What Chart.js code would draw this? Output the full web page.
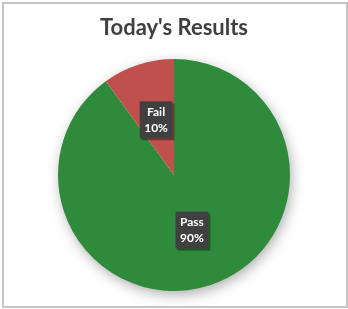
<!DOCTYPE html>
<html>
<head>
<meta charset="utf-8">
<script src="https://cdn.jsdelivr.net/npm/chart.js@4"></script>
<style>
  html,body{margin:0;padding:0;background:#fff;}
  body{width:348px;height:309px;position:relative;overflow:hidden;}
  #wrap{position:absolute;left:0;top:0;width:348px;height:309px;}
  #frame{position:absolute;left:2px;top:2px;width:342px;height:302px;border:2px solid #c4c4c4;pointer-events:none;}
</style>
</head>
<body>
<div id="wrap"><canvas id="chart"></canvas></div>
<div id="frame"></div>
<script>
let labels = ['Pass','Fail'];
let values = [90,10];
let colors = ['#2f8a3c','#c0504d'];

// soft glow behind the pie, like the Excel shadow
let pieShadow = {
    id:'pieShadow',
    beforeDatasetsDraw(chart){
        let arc = chart.getDatasetMeta(0).data[0];
        if(!arc) return;
        let c = chart.ctx;
        c.save();
        c.shadowColor = 'rgba(0,0,0,0.35)';
        c.shadowBlur = 14;
        c.shadowOffsetX = 2;
        c.shadowOffsetY = 4;
        c.fillStyle = '#ffffff';
        c.beginPath();
        c.arc(arc.x, arc.y, arc.outerRadius-1, 0, Math.PI*2);
        c.fill();
        c.restore();
    }
};

// dark callout boxes with name + percentage
let boxLabels = {
    id:'boxLabels',
    afterDatasetsDraw(chart){
        let c = chart.ctx;
        let total = values.reduce((a,b)=>a+b,0);
        chart.getDatasetMeta(0).data.forEach((arc,i)=>{
            let p = arc.tooltipPosition();
            let l1 = labels[i];
            let l2 = Math.round(values[i]/total*100)+'%';
            c.save();
            c.font = 'bold 12px Lato';
            let w = Math.max(c.measureText(l1).width, c.measureText(l2).width) + 9;
            let h = 37;
            let x = p.x - w/2, y = p.y - h/2;
            c.fillStyle = 'rgba(0,0,0,0.35)';
            c.fillRect(x+2, y+2, w, h);
            c.fillStyle = '#404040';
            c.fillRect(x, y, w, h);
            c.fillStyle = '#ffffff';
            c.textAlign = 'center';
            c.textBaseline = 'middle';
            c.fillText(l1, p.x, p.y-8);
            c.fillText(l2, p.x, p.y+8);
            c.restore();
        });
    }
};

let ctx = document.getElementById("chart").getContext("2d");
let chart = new Chart(ctx,{
    type:'pie',
    data:{
        labels:labels,
        datasets:[{
            data:values,
            backgroundColor:colors,
            borderWidth:0,
        }]
    },
    options:{
        animation:false,
        responsive:true,
        maintainAspectRatio:false,
        layout:{ padding:{top:0,bottom:18,left:0,right:0} },
        plugins:{
            title:{
                display:true,
                text:"Today's Results",
                color:'#404040',
                padding:{top:15,bottom:17.6},
                font:{ size:22, family:'Lato', weight:'bold', lineHeight:1.2 }
            },
            legend:{ display:false },
            tooltip:{ enabled:false },
        },
    },
    plugins:[pieShadow, boxLabels]
});
</script>
</body>
</html>
